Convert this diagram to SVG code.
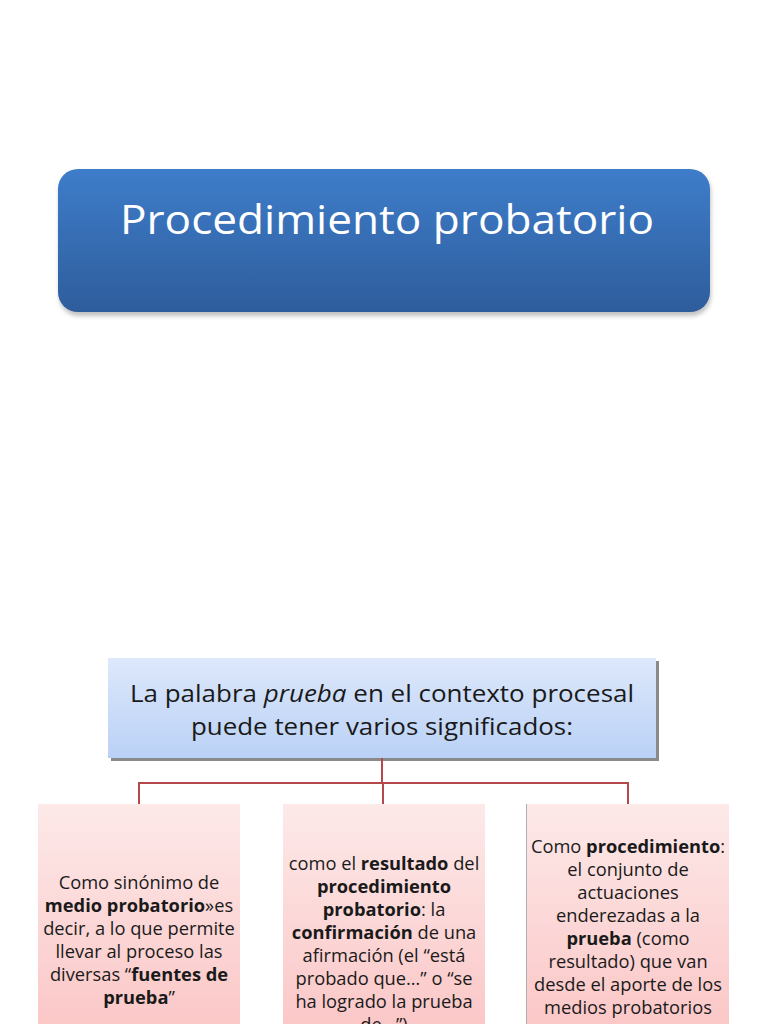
<svg xmlns="http://www.w3.org/2000/svg" width="768" height="1024" viewBox="0 0 768 1024">
<defs>
<linearGradient id="gTitle" x1="0" y1="0" x2="0" y2="1">
<stop offset="0" stop-color="#3e7dca"/>
<stop offset="1" stop-color="#2e5d9c"/>
</linearGradient>
<linearGradient id="gBlue" x1="0" y1="0" x2="0" y2="1">
<stop offset="0" stop-color="#dde8fb"/>
<stop offset="1" stop-color="#bad1f6"/>
</linearGradient>
<linearGradient id="gPink" x1="0" y1="0" x2="0" y2="1">
<stop offset="0" stop-color="#fde9e9"/>
<stop offset="1" stop-color="#fbc6c6"/>
</linearGradient>
<filter id="blur" x="-5%" y="-5%" width="110%" height="120%">
<feGaussianBlur stdDeviation="2"/>
</filter>
</defs>
<style>
.t{font-family:"Open Sans","Noto Sans","Liberation Sans",sans-serif;text-anchor:middle;fill:#1a1a1a}
.title{font-size:40px;fill:#ffffff}
.mid{font-size:24px}
.small{font-size:18.3px}
.b{font-weight:bold}
.conn{fill:none;stroke:#b5484a;stroke-width:2}
</style>
<rect width="768" height="1024" fill="#ffffff"/>

<g id="title-node">
<rect x="59" y="172" width="652" height="144" rx="20" fill="#7a7a7a" opacity="0.45" filter="url(#blur)"/>
<rect x="58" y="169" width="652" height="143" rx="20" fill="url(#gTitle)"/>
<text class="t title" x="387" y="234" textLength="534" lengthAdjust="spacingAndGlyphs">Procedimiento probatorio</text>
</g>

<g id="prueba-node">
<rect x="111" y="661" width="548" height="100" fill="#8a8a8a"/>
<rect x="108" y="658" width="548" height="100" fill="url(#gBlue)"/>
<text class="t mid" x="382" y="702" textLength="504" lengthAdjust="spacingAndGlyphs">La palabra <tspan font-style="italic">prueba</tspan> en el contexto procesal</text>
<text class="t mid" x="382" y="735" textLength="382" lengthAdjust="spacingAndGlyphs">puede tener varios significados:</text>
</g>

<g id="connectors">
<path class="conn" d="M382 758 V783 M139 804 V783 H628 V804 M383 783 V804"/>
</g>

<g id="medio-node">
<rect x="38" y="804" width="202" height="230" fill="url(#gPink)"/>
<text class="t small" x="139" y="889">Como sinónimo de</text>
<text class="t small" x="139" y="912"><tspan class="b">medio probatorio</tspan>»es</text>
<text class="t small" x="139" y="935">decir, a lo que permite</text>
<text class="t small" x="139" y="958">llevar al proceso las</text>
<text class="t small" x="139" y="981">diversas “<tspan class="b">fuentes de</tspan></text>
<text class="t small" x="139" y="1004"><tspan class="b">prueba</tspan>”</text>
</g>

<g id="resultado-node">
<rect x="283" y="804" width="202" height="230" fill="url(#gPink)"/>
<text class="t small" x="384" y="870">como el <tspan class="b">resultado</tspan> del</text>
<text class="t small b" x="384" y="893">procedimiento</text>
<text class="t small" x="384" y="916"><tspan class="b">probatorio</tspan>: la</text>
<text class="t small" x="384" y="939"><tspan class="b">confirmación</tspan> de una</text>
<text class="t small" x="384" y="962">afirmación (el “está</text>
<text class="t small" x="384" y="985">probado que…” o “se</text>
<text class="t small" x="384" y="1008">ha logrado la prueba</text>
<text class="t small" x="384" y="1031">de…”)</text>
</g>

<g id="procedimiento-node">
<rect x="526" y="804" width="1.5" height="230" fill="#b0b0b0"/>
<rect x="527" y="804" width="202" height="230" fill="url(#gPink)"/>
<text class="t small" x="628" y="853">Como <tspan class="b">procedimiento</tspan>:</text>
<text class="t small" x="628" y="876">el conjunto de</text>
<text class="t small" x="628" y="899">actuaciones</text>
<text class="t small" x="628" y="922">enderezadas a la</text>
<text class="t small" x="628" y="945"><tspan class="b">prueba</tspan> (como</text>
<text class="t small" x="628" y="968">resultado) que van</text>
<text class="t small" x="628" y="991">desde el aporte de los</text>
<text class="t small" x="628" y="1014">medios probatorios</text>
</g>
</svg>
